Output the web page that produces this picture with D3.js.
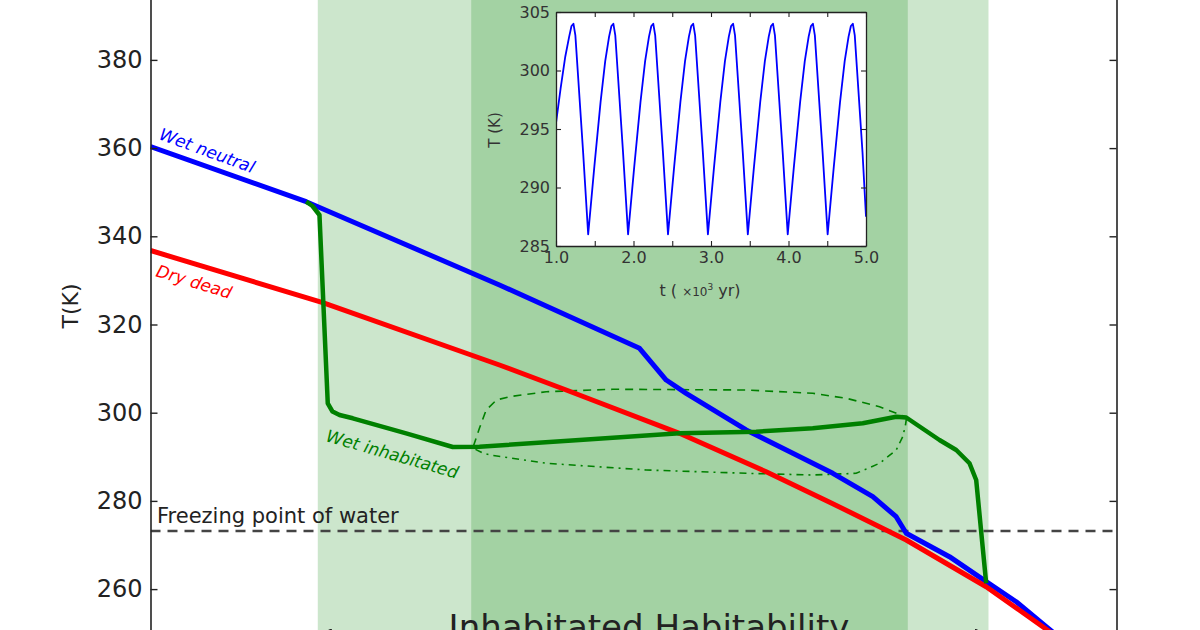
<!DOCTYPE html>
<html><head><meta charset="utf-8">
<script src="https://cdn.jsdelivr.net/npm/d3@7"></script>
<style>body{margin:0;background:#fff}svg{display:block;font-family:"DejaVu Sans",sans-serif}</style>
</head><body><svg id="c" width="1200" height="630"></svg>
<script>
// ---- data ----
const yTicks = [260, 280, 300, 320, 340, 360, 380];
const freezingT = 273.15;
const bandStart = [20.78, 39.84];
const bandEnd = [104.1, 94.07];

const blueX = [0, 19.34, 43.35, 60.75, 64.06, 66.54, 74.0, 79.79, 84.76, 89.73, 92.63, 93.88, 99.25, 103.81, 107.54, 111.27, 114.8];
const blueT = [360.36, 347.85, 328.96, 314.6, 307.41, 304.4, 296.08, 290.79, 286.26, 280.95, 276.42, 272.65, 267.35, 261.68, 257.14, 251.47, 246.2];

const redX = [0, 21.4, 43.35, 51.64, 65.71, 76.48, 84.5, 93.88, 103.81, 110.84, 114.8];
const redT = [336.78, 324.94, 310.82, 305.15, 295.33, 286.62, 279.6, 271.13, 260.54, 251.47, 246.2];

const greenX = [19.34, 20.12, 20.99, 22.02, 22.61, 23.48, 25.13, 31.76, 37.55, 40.87, 53.29, 65.71, 75.24, 82.27, 88.48, 92.63, 93.88, 98.01, 100.09, 101.74, 102.57, 103.81];
const greenT = [347.85, 346.87, 344.83, 302.13, 300.27, 299.48, 298.73, 295.33, 292.22, 292.29, 293.81, 295.33, 295.69, 296.46, 297.6, 299.09, 298.91, 293.81, 291.54, 288.53, 284.74, 261.32];

const upperX = [40.12, 40.87, 41.7, 42.98, 44.6, 49.16, 57.43, 74.0, 82.27, 86.42, 90.56, 93.04, 93.79];
const upperT = [292.45, 296.53, 300.61, 302.88, 303.63, 304.76, 305.31, 305.15, 304.4, 303.27, 301.36, 299.59, 299.02];

const lowerX = [40.37, 41.37, 42.53, 49.16, 61.58, 74.0, 82.27, 87.66, 90.56, 92.63, 93.45, 93.79, 93.91];
const lowerT = [291.68, 290.77, 290.32, 288.53, 287.01, 286.26, 285.87, 286.26, 288.53, 291.54, 294.56, 297.2, 298.8];

// inset oscillation
const insetTime = [1.0, 1.06, 1.12, 1.17, 1.2, 1.225, 1.25, 1.28, 1.35, 1.415,
  1.495, 1.575, 1.635, 1.685, 1.715, 1.74, 1.765, 1.795, 1.865, 1.93,
  2.01, 2.09, 2.15, 2.2, 2.23, 2.255, 2.28, 2.31, 2.38, 2.445,
  2.525, 2.605, 2.665, 2.715, 2.745, 2.77, 2.795, 2.825, 2.895, 2.96,
  3.04, 3.12, 3.18, 3.23, 3.26, 3.285, 3.31, 3.34, 3.41, 3.475,
  3.555, 3.635, 3.695, 3.745, 3.775, 3.8, 3.825, 3.855, 3.925, 3.99,
  4.07, 4.15, 4.21, 4.26, 4.29, 4.315, 4.34, 4.37, 4.44, 4.505,
  4.585, 4.665, 4.725, 4.775, 4.805, 4.83, 4.855, 4.885, 4.955, 5.0];
const insetTemp = [295.5, 298.5, 301.2, 302.9, 303.8, 304, 303, 300, 293, 286,
  291.8, 297.3, 300.8, 302.9, 303.8, 304, 303, 300, 293, 286,
  291.8, 297.3, 300.8, 302.9, 303.8, 304, 303, 300, 293, 286,
  291.8, 297.3, 300.8, 302.9, 303.8, 304, 303, 300, 293, 286,
  291.8, 297.3, 300.8, 302.9, 303.8, 304, 303, 300, 293, 286,
  291.8, 297.3, 300.8, 302.9, 303.8, 304, 303, 300, 293, 286,
  291.8, 297.3, 300.8, 302.9, 303.8, 304, 303, 300, 293, 286,
  291.8, 297.3, 300.8, 302.9, 303.8, 304, 303, 300, 293, 287.5];
const insetXTicks = [1, 1.5, 2, 2.5, 3, 3.5, 4, 4.5, 5];
const insetYTicks = [285, 290, 295, 300, 305];

// ---- drawing ----
const svg = d3.select("#c");
const x = d3.scaleLinear().domain([0, 120]).range([150.5, 1116.5]);
const y = d3.scaleLinear().domain([240, 400]).range([677.3, -28.3]);

svg.append("rect").attr("width", 1200).attr("height", 630).attr("fill", "#fff");

svg.append("clipPath").attr("id", "plotclip").append("rect")
  .attr("x", x(0)).attr("y", y(400)).attr("width", x(120) - x(0)).attr("height", y(240) - y(400));

const plot = svg.append("g").attr("clip-path", "url(#plotclip)");

bandStart.forEach((s, i) => {
  plot.append("rect").attr("x", x(s)).attr("y", y(400))
    .attr("width", x(bandEnd[i]) - x(s)).attr("height", y(240) - y(400))
    .attr("fill", "rgb(0,128,0)").attr("fill-opacity", 0.2);
});

plot.append("line").attr("x1", x(0)).attr("x2", x(120))
  .attr("y1", y(freezingT)).attr("y2", y(freezingT))
  .attr("stroke", "#444").attr("stroke-width", 2.5).attr("stroke-dasharray", "10,7");

const line = d3.line().x(d => x(d[0])).y(d => y(d[1]));
const zip = (a, b) => a.map((v, i) => [v, b[i]]);

plot.append("path").datum(zip(upperX, upperT)).attr("d", line)
  .attr("fill", "none").attr("stroke", "#008000").attr("stroke-width", 1.6).attr("stroke-dasharray", "8,6");
plot.append("path").datum(zip(lowerX, lowerT)).attr("d", line)
  .attr("fill", "none").attr("stroke", "#008000").attr("stroke-width", 1.6).attr("stroke-dasharray", "7,5,2,5");

plot.append("path").datum(zip(blueX, blueT)).attr("d", line)
  .attr("fill", "none").attr("stroke", "#0000ff").attr("stroke-width", 5).attr("stroke-linejoin", "round");
plot.append("path").datum(zip(redX, redT)).attr("d", line)
  .attr("fill", "none").attr("stroke", "#ff0000").attr("stroke-width", 5).attr("stroke-linejoin", "round");
plot.append("path").datum(zip(greenX, greenT)).attr("d", line)
  .attr("fill", "none").attr("stroke", "#008000").attr("stroke-width", 4.5).attr("stroke-linejoin", "round");

// axes
const la = svg.append("g").attr("transform", `translate(${x(0)},0)`)
  .call(d3.axisLeft(y).tickValues(yTicks).tickSize(-7).tickSizeOuter(0).tickPadding(8));
const ra = svg.append("g").attr("transform", `translate(${x(120)},0)`)
  .call(d3.axisRight(y).tickValues(yTicks).tickSize(-7).tickSizeOuter(0).tickFormat(""));
[la, ra].forEach(g => {
  g.select(".domain").attr("stroke", "#222").attr("stroke-width", 1.6);
  g.selectAll(".tick line").attr("stroke", "#222").attr("stroke-width", 1.4);
  g.selectAll("text").attr("font-size", 24).attr("fill", "#222").attr("font-family", "DejaVu Sans");
});

svg.append("text").attr("transform", "translate(78,306) rotate(-90)")
  .attr("text-anchor", "middle").attr("font-size", 22).attr("fill", "#222").text("T(K)");

// labels
svg.append("text").attr("transform", "translate(158,139) rotate(20)")
  .attr("font-size", 17).attr("font-style", "italic").attr("fill", "#0000ff").text("Wet neutral");
svg.append("text").attr("transform", "translate(155,276) rotate(17)")
  .attr("font-size", 17).attr("font-style", "italic").attr("fill", "#ff0000").text("Dry dead");
svg.append("text").attr("transform", "translate(325,441) rotate(16)")
  .attr("font-size", 17).attr("font-style", "italic").attr("fill", "#008000").text("Wet inhabitated");
svg.append("text").attr("x", 157).attr("y", 523)
  .attr("font-size", 21).attr("fill", "#222").text("Freezing point of water");

svg.append("text").attr("x", 649).attr("y", 639).attr("text-anchor", "middle")
  .attr("font-size", 34).attr("fill", "#222").text("Inhabitated Habitability");

// arrows under label
const defs = svg.append("defs");
defs.append("marker").attr("id", "ah").attr("viewBox", "0 0 10 10").attr("refX", 10).attr("refY", 5)
  .attr("markerWidth", 10).attr("markerHeight", 10).attr("orient", "auto-start-reverse")
  .attr("markerUnits", "userSpaceOnUse")
  .append("path").attr("d", "M0,0 L10,5 L0,10").attr("fill", "none").attr("stroke", "#222").attr("stroke-width", 1.5);
svg.append("line").attr("x1", 440).attr("x2", x(bandStart[0]) + 4).attr("y1", 634).attr("y2", 634)
  .attr("stroke", "#222").attr("stroke-width", 1.5).attr("marker-end", "url(#ah)");
svg.append("line").attr("x1", 860).attr("x2", x(bandEnd[0]) - 4).attr("y1", 634).attr("y2", 634)
  .attr("stroke", "#222").attr("stroke-width", 1.5).attr("marker-end", "url(#ah)");

// ---- inset ----
const xi = d3.scaleLinear().domain([1, 5]).range([556, 866]);
const yi = d3.scaleLinear().domain([285, 305]).range([246, 12]);
const inset = svg.append("g");
inset.append("rect").attr("x", xi(1)).attr("y", yi(305)).attr("width", xi(5) - xi(1)).attr("height", yi(285) - yi(305))
  .attr("fill", "#fff");
svg.append("clipPath").attr("id", "insetclip").append("rect")
  .attr("x", xi(1)).attr("y", yi(305)).attr("width", xi(5) - xi(1)).attr("height", yi(285) - yi(305));
inset.append("path").datum(zip(insetTime, insetTemp))
  .attr("d", d3.line().x(d => xi(d[0])).y(d => yi(d[1])))
  .attr("clip-path", "url(#insetclip)")
  .attr("fill", "none").attr("stroke", "#0000ff").attr("stroke-width", 1.8).attr("stroke-linejoin", "round");

const fmtX = d => Number.isInteger(d) ? d.toFixed(1) : "";
const ib = inset.append("g").attr("transform", `translate(0,${yi(285)})`)
  .call(d3.axisBottom(xi).tickValues(insetXTicks).tickSize(-5).tickSizeOuter(0).tickPadding(6).tickFormat(fmtX));
const it = inset.append("g").attr("transform", `translate(0,${yi(305)})`)
  .call(d3.axisTop(xi).tickValues(insetXTicks).tickSize(-5).tickSizeOuter(0).tickFormat(""));
const il = inset.append("g").attr("transform", `translate(${xi(1)},0)`)
  .call(d3.axisLeft(yi).tickValues(insetYTicks).tickSize(-5).tickSizeOuter(0).tickPadding(6).tickFormat(d3.format("d")));
const ir = inset.append("g").attr("transform", `translate(${xi(5)},0)`)
  .call(d3.axisRight(yi).tickValues(insetYTicks).tickSize(-5).tickSizeOuter(0).tickFormat(""));
[ib, it, il, ir].forEach(g => {
  g.select(".domain").attr("stroke", "#222").attr("stroke-width", 1.3);
  g.selectAll(".tick line").attr("stroke", "#222").attr("stroke-width", 1.1);
  g.selectAll("text").attr("font-size", 16).attr("fill", "#333").attr("font-family", "DejaVu Sans");
});
inset.append("text").attr("x", 700).attr("y", 296).attr("text-anchor", "middle")
  .attr("font-size", 16).attr("fill", "#333")
  .html('t ( <tspan font-size="12">×10</tspan><tspan font-size="9" dy="-6">3</tspan><tspan dy="6"> yr)</tspan>');
inset.append("text").attr("transform", "translate(500,130) rotate(-90)").attr("text-anchor", "middle")
  .attr("font-size", 15).attr("fill", "#333").text("T (K)");
</script></body></html>
